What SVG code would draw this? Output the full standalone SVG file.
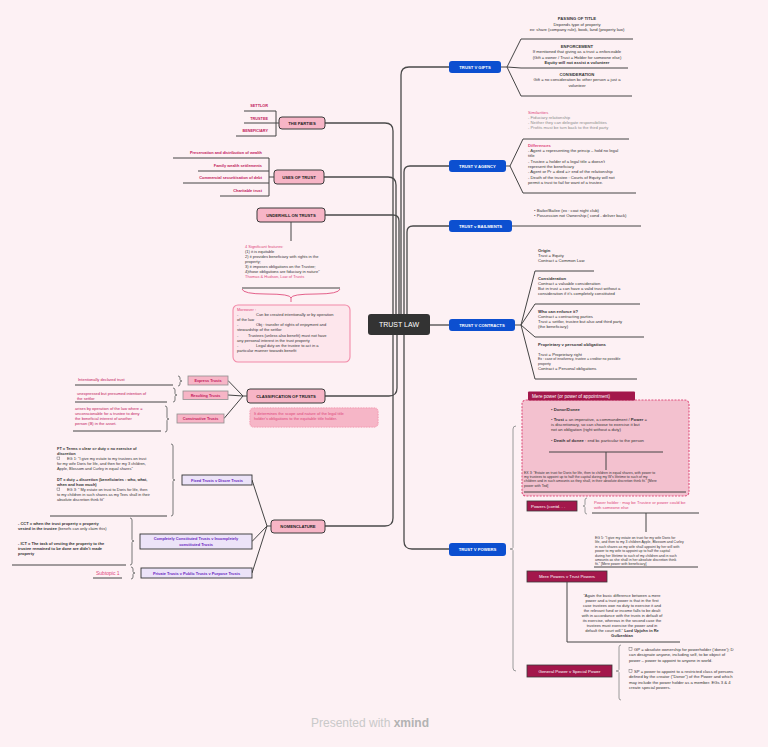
<svg xmlns="http://www.w3.org/2000/svg" width="768" height="747" viewBox="0 0 768 747">
<defs>
<style>
text{font-family:"Liberation Sans",Arial,sans-serif;font-size:4.2px;fill:#333}
.b{font-weight:bold}
.pk{fill:#e0457b}
.dr{fill:#c2185b}
.gr{fill:#8c8c8c}
.w{fill:#fff}
.pu{fill:#6a1fc0;font-weight:bold}
.mid{text-anchor:middle}
.end{text-anchor:end}
.trunk{fill:none;stroke:#4a4a4a;stroke-width:1.3}
.ln{fill:none;stroke:#444;stroke-width:1}
.br{fill:none;stroke:#9a9a9a;stroke-width:1}
.nl{fill:#f7b5c6;stroke:#3a3a3a;stroke-width:1}
.nb{fill:#0c4fd0}
.sub{fill:#f7b5c6;stroke:#8f8f8f;stroke-width:0.8}
.lav{fill:#ece3f8;stroke:#333;stroke-width:0.9}
.dk{fill:#a3174b;stroke:#3a3a3a;stroke-width:0.8}
.lbl{font-size:4.2px;font-weight:bold;fill:#222}
.lblw{font-size:4.2px;font-weight:bold;fill:#fff}
.sm{font-size:3.5px}
.ic{fill:none;stroke:#555;stroke-width:0.4}
</style>
</defs>
<rect width="768" height="747" fill="#fdf1f4"/>

<g id="connectors">
<path class="trunk" d="M401,314 V75 Q401,67 409,67 H449"/>
<path class="trunk" d="M404,314 V172 Q404,166 410,166 H449"/>
<path class="trunk" d="M407,314 V232 Q407,226 413,226 H449"/>
<path class="trunk" d="M430,325 H449"/>
<path class="trunk" d="M404,335 V541 Q404,549 412,549 H449"/>
<path class="trunk" d="M393,314 V131 Q393,123 385,123 H325"/>
<path class="trunk" d="M396,314 V185 Q396,177 388,177 H324"/>
<path class="trunk" d="M399,314 V221 Q399,215 393,215 H325"/>
<path class="trunk" d="M397,335 V388 Q397,396 389,396 H325"/>
<path class="trunk" d="M393,335 V518 Q393,526 385,526 H325"/>
</g>

<g id="trust-law">
<rect x="368" y="314" width="62" height="21" rx="3" fill="#333"/>
<text x="399" y="327" class="mid w" style="font-size:7px">TRUST LAW</text>
</g>

<g id="gifts">
<rect class="nb" x="449" y="61" width="52" height="12" rx="3"/>
<text x="475" y="68.5" class="mid lblw">TRUST V GIFTS</text>
<path class="ln" d="M501,67 H507 L521,39 H633 M507,67 L521,68 H628 M507,67 L521,96 H632"/>
<text x="577" y="19.5" class="mid b">PASSING OF TITLE</text>
<text x="577" y="25.5" class="mid">Depends type of property</text>
<text x="577" y="31" class="mid">ex: share (company rule), book, land (property law)</text>
<text x="577" y="47.5" class="mid b">ENFORCEMENT</text>
<text x="577" y="53" class="mid">If mentioned that giving as a trust = enforceable</text>
<text x="577" y="58.5" class="mid">(Gift = owner / Trust = Holder for someone else)</text>
<text x="577" y="63.5" class="mid b">Equity will not assist a volunteer</text>
<text x="577" y="75.5" class="mid b">CONSIDERATION</text>
<text x="577" y="81" class="mid">Gift = no consideration bc other person = just a</text>
<text x="577" y="86.5" class="mid">volunteer</text>
</g>

<g id="agency">
<rect class="nb" x="449" y="160" width="57" height="12" rx="3"/>
<text x="477.5" y="167.5" class="mid lblw">TRUST V AGENCY</text>
<path class="ln" d="M506,166 H510 L523,139 H629 M510,166 L523,193 H636"/>
<text x="528" y="113.5" class="pk">Similarities</text>
<text x="528" y="118.5" class="gr">- Fiduciary relationship</text>
<text x="528" y="123.5" class="gr">- Neither they can delegate responsibilities</text>
<text x="528" y="129" class="gr">- Profits must be turn back to the third party</text>
<text x="528" y="146.5" class="pk b">Differences</text>
<text x="528" y="152">- Agent = representing the princip – hold no legal</text>
<text x="528" y="157">title</text>
<text x="528" y="162.5">- Trustee = holder of a legal title = doesn't</text>
<text x="528" y="168">represent the beneficiary</text>
<text x="528" y="173">- Agent or Pr = died =&gt; end of the relationship</text>
<text x="528" y="178.5">- Death of the trustee : Courts of Equity will not</text>
<text x="528" y="184">permit a trust to fail for want of a trustee.</text>
</g>

<g id="bailments">
<rect class="nb" x="449" y="220" width="63" height="12" rx="3"/>
<text x="480.5" y="227.5" class="mid lblw">TRUST v BAILMENTS</text>
<path class="ln" d="M512,226 H641"/>
<text x="534" y="212">• Bailor/Bailee (ex : coat night club)</text>
<text x="534" y="217">• Possession not Ownership ( cond - deliver back)</text>
</g>

<g id="contracts">
<rect class="nb" x="449" y="319" width="66" height="12" rx="3"/>
<text x="482" y="326.5" class="mid lblw">TRUST V CONTRACTS</text>
<path class="ln" d="M515,325 H521 L535,271 H594 M521,325 L535,304 H640 M521,325 L535,337 H644 M521,325 L535,379 H637"/>
<text x="538" y="251.5" class="b">Origin</text>
<text x="538" y="256.5">Trust = Equity</text>
<text x="538" y="261.5">Contract = Common Law</text>
<text x="538" y="279.5" class="b">Consideration</text>
<text x="538" y="284.5">Contract = valuable consideration</text>
<text x="538" y="289.5">But in trust = can have a valid trust without a</text>
<text x="538" y="294.5">consideration if it's completely constituted</text>
<text x="538" y="312.5" class="b">Who can enforce it?</text>
<text x="538" y="317.5">Contract = contracting parties</text>
<text x="538" y="322.5">Trust = settlor, trustee but also and third party</text>
<text x="538" y="327.5">(the beneficiary)</text>
<text x="538" y="345.5" class="b">Proprietary v personal obligations</text>
<text x="538" y="356">Trust = Proprietary right</text>
<text x="538" y="360" class="sm">Ex : case of insolvency, trustee = creditor no possible</text>
<text x="538" y="364.5" class="sm">property</text>
<text x="538" y="369.5">Contract = Personal obligations</text>
</g>

<g id="powers">
<rect class="nb" x="449" y="543" width="57" height="13" rx="3"/>
<text x="477.5" y="551" class="mid lblw">TRUST V POWERS</text>
<path class="br" d="M516,426 Q513,426 513,429 V547.5 Q513,549 510,549 Q513,549 513,550.5 V668 Q513,671 516,671"/>
</g>

<g id="mere-power">
<rect x="522" y="400" width="167" height="96" rx="4" fill="#f3c1cf" stroke="#e0507e" stroke-width="1.1" stroke-dasharray="2 1.3"/>
<rect x="528" y="391.5" width="107" height="9" rx="1" fill="#a3174b"/>
<text x="532" y="398" class="w" style="font-size:4.6px">Mere power (or power of appointment)</text>
<text x="551" y="410.5" class="b">• Donor/Donee</text>
<text x="551" y="420.5">• <tspan class="b">Trust</tspan> = an imperative, a commandment / <tspan class="b">Power</tspan> =</text>
<text x="551" y="425.5">is discretionary, so can choose to exercise it but</text>
<text x="551" y="430.5">not an obligation (right without a duty)</text>
<text x="551" y="441.5">• <tspan class="b">Death of donee</tspan> : end bc particular to the person</text>
<path class="ln" d="M549,452 H663 M606,452 V470"/>
<text x="524" y="474" class="sm">EX 3: "Estate on trust for Doris for life, then to children in equal shares, with power to</text>
<text x="524" y="478" class="sm">my trustees to appoint up to half the capital during my W's lifetime to such of my</text>
<text x="524" y="482" class="sm">children and in such amounts as they shall, in their absolute discretion think fit." [Mere</text>
<text x="524" y="486.5" class="sm">power with Ted]</text>
<path class="ln" d="M524,492 H686"/>
</g>

<g id="powers-contd">
<rect class="dk" x="527" y="501" width="50" height="10"/>
<text x="531" y="507.5" class="w" style="font-size:4.4px">Powers (contd. . .</text>
<path class="br" d="M587,498 Q585,498 585,500 V504.5 Q585,506 583,506 Q585,506 585,507.5 V512 Q585,514 587,514"/>
<text x="594" y="503.5" class="pk">Power holder : may be Trustee or power could be</text>
<text x="594" y="508.5" class="pk">with someone else</text>
<path class="ln" d="M592,513 H699 M646,513 V532"/>
<text x="595" y="538.5" class="sm">EG 5: "I give my estate on trust for my wife Doris for</text>
<text x="595" y="543" class="sm">life, and then to my 3 children Apple, Blossom and Curley</text>
<text x="595" y="547.5" class="sm">in such shares as my wife shall appoint by her will with</text>
<text x="595" y="552" class="sm">power to my wife to appoint up to half the capital</text>
<text x="595" y="556.5" class="sm">during her lifetime to such of my children and in such</text>
<text x="595" y="561" class="sm">amounts as she shall in her absolute discretion think</text>
<text x="595" y="565" class="sm">fit." [Mere power with beneficiary]</text>
<path class="ln" d="M594,567 H698"/>
</g>

<g id="mere-v-trust">
<rect class="dk" x="527" y="571" width="80" height="11"/>
<text x="567" y="578" class="mid w" style="font-size:4.4px">Mere Powers v Trust Powers</text>
<path class="ln" d="M567,582 V642 H680"/>
<text x="622" y="596.5" class="mid" style="font-size:4px">"Again the basic difference between a mere</text>
<text x="622" y="601.5" class="mid" style="font-size:4px">power and a trust power is that in the first</text>
<text x="622" y="606.5" class="mid" style="font-size:4px">case trustees owe no duty to exercise it and</text>
<text x="622" y="611.5" class="mid" style="font-size:4px">the relevant fund or income falls to be dealt</text>
<text x="622" y="616.5" class="mid" style="font-size:4px">with in accordance with the trusts in default of</text>
<text x="622" y="621.5" class="mid" style="font-size:4px">its exercise, whereas in the second case the</text>
<text x="622" y="627" class="mid" style="font-size:4px">trustees must exercise the power and in</text>
<text x="622" y="632" class="mid" style="font-size:4px">default the court will." <tspan class="b">Lord Upjohn in Re</tspan></text>
<text x="622" y="637" class="mid b" style="font-size:4px">Gulbenkian</text>
</g>

<g id="general-v-special">
<rect class="dk" x="527" y="665" width="85" height="12"/>
<text x="569.5" y="672.5" class="mid w" style="font-size:4.4px">General Power v Special Power</text>
<path class="br" d="M621,645 Q619,645 619,647 V669.5 Q619,671 616,671 Q619,671 619,672.5 V698 Q619,700 621,700"/>
<rect class="ic" x="629" y="647.5" width="3" height="3"/>
<text x="634" y="650.5">GP = absolute ownership for powerholder ('donee'); D</text>
<text x="629" y="656">can designate anyone, including self, to be object of</text>
<text x="629" y="661.5">power – power to appoint to anyone in world.</text>
<rect class="ic" x="629" y="669.5" width="3" height="3"/>
<text x="634" y="672.5">SP = power to appoint to a restricted class of persons</text>
<text x="629" y="678">defined by the creator ("Donor") of the Power and which</text>
<text x="629" y="683.5">may include the power holder as a member.  EGs 3 &amp; 4</text>
<text x="629" y="689">create special powers.</text>
</g>

<g id="parties">
<rect class="nl" x="279" y="117" width="46" height="12" rx="3"/>
<text x="302" y="124.5" class="mid lbl">THE PARTIES</text>
<path class="ln" d="M279,123 H276 M276,111 V136 M244,111 H276 M244,123 H276 M236,136 H276"/>
<text x="268" y="107" class="end dr b" style="font-size:3.8px">SETTLOR</text>
<text x="268" y="119.5" class="end dr b" style="font-size:3.8px">TRUSTEE</text>
<text x="268" y="131.5" class="end dr b" style="font-size:3.8px">BENEFICIARY</text>
</g>

<g id="uses">
<rect class="nl" x="274" y="170" width="50" height="14" rx="3"/>
<text x="299" y="178.5" class="mid lbl">USES OF TRUST</text>
<path class="ln" d="M274,177 H269 M269,158 V196 M173,158 H269 M198,171 H269 M183,183 H269 M220,196 H269"/>
<text x="262" y="154" class="end dr b" style="font-size:3.9px">Preservation and distribution of wealth</text>
<text x="262" y="167" class="end dr b" style="font-size:3.9px">Family wealth settlements</text>
<text x="262" y="179" class="end dr b" style="font-size:3.9px">Commercial securitisation of debt</text>
<text x="262" y="192" class="end dr b" style="font-size:3.9px">Charitable trust</text>
</g>

<g id="underhill">
<rect class="nl" x="257" y="208" width="68" height="14" rx="3"/>
<text x="291" y="216.5" class="mid lbl">UNDERHILL ON TRUSTS</text>
<path class="ln" d="M291,222 V241 M242,288 H340"/>
<text x="245" y="247.5" class="pk" style="font-size:4px">4 Significant features:</text>
<text x="245" y="252.5" style="font-size:4px">(1) it is equitable</text>
<text x="245" y="257.5" style="font-size:4px">2) it provides beneficiary with rights in the</text>
<text x="245" y="262.5" style="font-size:4px">property;</text>
<text x="245" y="267.5" style="font-size:4px">3) it imposes obligations on the Trustee;</text>
<text x="245" y="272.5" style="font-size:4px">4)those obligations are fiduciary in nature"</text>
<text x="245" y="277.5" class="pk" style="font-size:4px">Thomas &amp; Hudson, Law of Trusts</text>
<path d="M242,289 Q243,294 266,294 Q291,294 291,298 Q291,294 316,294 Q339,294 340,289 M291,298 V302" fill="none" stroke="#e0507e" stroke-width="0.9"/>
<rect x="233" y="305" width="117" height="57" rx="5" fill="#fde6ec" stroke="#f28aa8" stroke-width="1.1"/>
<text x="237" y="310.5" class="pk" style="font-size:4px">Moreover :</text>
<text x="237" y="316" style="font-size:4px">-</text>
<text x="256" y="316" style="font-size:4px">Can be created intentionally or by operation</text>
<text x="237" y="321" style="font-size:4px">of the law</text>
<text x="237" y="326" style="font-size:4px">-</text>
<text x="256" y="326" style="font-size:4px">Obj : transfer of rights of enjoyment and</text>
<text x="237" y="331" style="font-size:4px">stewardship of the settlor</text>
<text x="237" y="336.5" style="font-size:4px">-</text>
<text x="248" y="336.5" style="font-size:4px">Trustees (unless also benefit) must not have</text>
<text x="237" y="341.5" style="font-size:4px">any personal interest in the trust property</text>
<text x="237" y="347" style="font-size:4px">-</text>
<text x="256" y="347" style="font-size:4px">Legal duty on the trustee to act in a</text>
<text x="237" y="352" style="font-size:4px">particular manner towards benefit</text>
</g>

<g id="classification">
<rect class="nl" x="247" y="389" width="78" height="14" rx="3"/>
<text x="286" y="397.5" class="mid lbl">CLASSIFICATION OF TRUSTS</text>
<path class="ln" d="M247,396 H243 L228,380.5 M243,396 L228,395 M243,396 L224,418.5"/>
<rect class="sub" x="188" y="376" width="40" height="9"/>
<text x="208" y="382" class="mid dr b" style="font-size:3.8px">Express Trusts</text>
<rect class="sub" x="183" y="391" width="45" height="8.5"/>
<text x="205.5" y="396.7" class="mid dr b" style="font-size:3.8px">Resulting Trusts</text>
<rect class="sub" x="177" y="414" width="47" height="9"/>
<text x="200.5" y="420" class="mid dr b" style="font-size:3.8px">Constructive Trusts</text>
<path class="br" style="stroke:#777" d="M178,376 Q180,376 180,378 V379.5 Q180,381 182,381 Q180,381 180,382.5 V384 Q180,386 178,386"/>
<path class="br" style="stroke:#777" d="M173,388 Q175,388 175,390 V393.5 Q175,395 177,395 Q175,395 175,396.5 V400 Q175,402 173,402"/>
<path class="br" style="stroke:#777" d="M165,406 Q167,406 167,408 V417.5 Q167,419 169,419 Q167,419 167,420.5 V430 Q167,432 165,432"/>
<text x="78" y="380.5" class="dr" style="font-size:4px">Intentionally declared trust</text>
<path class="ln" d="M75,385 H173"/>
<text x="77" y="394.5" class="dr" style="font-size:4px">unexpressed but presumed intention of</text>
<text x="77" y="399.5" class="dr" style="font-size:4px">the settlor</text>
<path class="ln" d="M75,402 H167"/>
<text x="75" y="410" class="dr" style="font-size:4px">arises by operation of the law where =</text>
<text x="75" y="415" class="dr" style="font-size:4px">unconscionable for a trustee to deny</text>
<text x="75" y="420" class="dr" style="font-size:4px">the beneficial interest of another</text>
<text x="75" y="425" class="dr" style="font-size:4px">person (B) in the asset.</text>
<path class="ln" d="M73,431 H161"/>
<rect x="250" y="408" width="128" height="19" rx="4" fill="#f6b6c7" stroke="#f4a6ba" stroke-width="1.5" stroke-dasharray="1 0.6"/>
<text x="254" y="414.5" class="pk" style="font-size:4px">It determines the scope and nature of the legal title</text>
<text x="254" y="420" class="pk" style="font-size:4px">holder's obligations to the equitable title holder.</text>
</g>

<g id="nomenclature">
<rect class="nl" x="271" y="520" width="54" height="13" rx="3"/>
<text x="298" y="528" class="mid lbl">NOMENCLATURE</text>
<path class="ln" d="M271,526 H267 L252,480 M267,526 L252,541.5 M267,526 L252,573"/>
<rect class="lav" x="182" y="475" width="70" height="10"/>
<text x="217" y="481.5" class="mid pu" style="font-size:3.9px">Fixed Trusts v Discre Trusts</text>
<rect class="lav" x="140" y="534" width="112" height="15"/>
<text x="196" y="540" class="mid pu" style="font-size:3.9px">Completely Constituted Trusts v Incompletely</text>
<text x="196" y="545.5" class="mid pu" style="font-size:3.9px">constituted Trusts</text>
<rect class="lav" x="141" y="568" width="111" height="10"/>
<text x="196.5" y="574.5" class="mid pu" style="font-size:3.9px">Private Trusts v Public Trusts v Purpose Trusts</text>
<path class="br" style="stroke:#777" d="M171,444 Q173,444 173,446 V478.5 Q173,480 175,480 Q173,480 173,481.5 V514 Q173,516 171,516"/>
<path class="br" style="stroke:#777" d="M130,518 Q132,518 132,520 V539.5 Q132,541 134,541 Q132,541 132,542.5 V563 Q132,565 130,565"/>
<path class="br" style="stroke:#777" d="M131,567 Q133,567 133,569 V571.5 Q133,573 135,573 Q133,573 133,574.5 V577 Q133,579 131,579"/>
<text x="57" y="449.5" class="b" style="font-size:3.9px">FT = Terms = clear =&gt; duty = no exercise of</text>
<text x="57" y="454.5" class="b" style="font-size:3.9px">discretion</text>
<rect class="ic" x="57" y="457" width="2.8" height="2.8"/>
<text x="67" y="459.5" style="font-size:3.9px">EG 1: "I give my estate to my trustees on trust</text>
<text x="57" y="464.5" style="font-size:3.9px">for my wife Doris for life, and then for my 3 children,</text>
<text x="57" y="469.5" style="font-size:3.9px">Apple, Blossom and Curley in equal shares"</text>
<text x="57" y="480.5" class="b" style="font-size:3.9px">DT = duty + discretion (beneficiaries : who, what,</text>
<text x="57" y="485.5" class="b" style="font-size:3.9px">when and how much)</text>
<rect class="ic" x="57" y="488" width="2.8" height="2.8"/>
<text x="67" y="490.5" style="font-size:3.9px">EG 3: " My estate on trust to Doris for life, then</text>
<text x="57" y="495.5" style="font-size:3.9px">to my children in such shares as my Tees shall in their</text>
<text x="57" y="500.5" style="font-size:3.9px">absolute discretion think fit"</text>
<path class="ln" d="M50,516 H167"/>
<text x="18" y="524.5" class="b" style="font-size:4px">- CCT = when the trust property = property</text>
<text x="18" y="529.5" style="font-size:4px"><tspan class="b">vested in the trustee</tspan> (benefs can only claim this)</text>
<text x="18" y="545" class="b" style="font-size:4px">- ICT = The task of vesting the property to the</text>
<text x="18" y="550" class="b" style="font-size:4px">trustee remained to be done are didn't made</text>
<text x="18" y="555" class="b" style="font-size:4px">property</text>
<path class="ln" d="M12,565 H126"/>
<text x="96" y="575" class="pk" style="font-size:5px">Subtopic 1</text>
<path class="ln" d="M93,578 H122"/>
</g>

<g id="watermark">
<text x="370" y="727" class="mid" style="font-size:12px;fill:#c9c9c9">Presented with <tspan style="font-weight:bold;fill:#b3b3b3">xmind</tspan></text>
</g>
</svg>
